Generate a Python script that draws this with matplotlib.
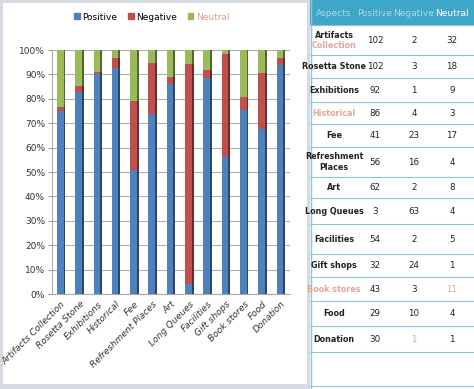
import matplotlib.pyplot as plt
import numpy as np
from matplotlib.patches import Rectangle

aspects = ['Artifacts Collection', 'Rosetta Stone', 'Exhibitions', 'Historical', 'Fee',
           'Refreshment Places', 'Art', 'Long Queues', 'Facilities', 'Gift shops',
           'Book stores', 'Food', 'Donation']
table_labels = ['Artifacts\nCollection', 'Rosetta Stone', 'Exhibitions', 'Historical', 'Fee',
                'Refreshment\nPlaces', 'Art', 'Long Queues', 'Facilities', 'Gift shops',
                'Book stores', 'Food', 'Donation']
positive = [102, 102, 92, 86, 41, 56, 62, 3, 54, 32, 43, 29, 30]
negative = [2, 3, 1, 4, 23, 16, 2, 63, 2, 24, 3, 10, 1]
neutral = [32, 18, 9, 3, 17, 4, 8, 4, 5, 1, 11, 4, 1]
headers = ['Aspects', 'Positive', 'Negative', 'Neutral']

c_pos, c_neg, c_neu = '#4f81bd', '#c0504d', '#9bbb59'

fig = plt.figure(figsize=(4.74, 3.89), dpi=100, facecolor='#d6dae3')
W, H = 474, 389

# white chart panel
fig.patches.append(Rectangle((3 / W, 5 / H), 304 / W, 381 / H, transform=fig.transFigure,
                             facecolor='white', edgecolor='none', zorder=-5))

ax = fig.add_axes([52 / W, 1 - 294 / H, 238 / W, 244 / H])
ax.patch.set_alpha(0)
pos = np.array(positive, float)
neg = np.array(negative, float)
neu = np.array(neutral, float)
tot = pos + neg + neu
p_pos, p_neg, p_neu = pos / tot * 100, neg / tot * 100, neu / tot * 100
x = np.arange(len(aspects))
bw = 0.36
sw = 0.1
for vals, bottom, c in [(p_pos, 0, c_pos), (p_neg, p_pos, c_neg), (p_neu, p_pos + p_neg, c_neu)]:
    ax.bar(x - sw / 2, vals, bw, bottom=bottom, color=c, zorder=3)
    # darker side face for the 3d look
    dark = tuple(v * 0.55 for v in plt.matplotlib.colors.to_rgb(c))
    ax.bar(x + bw / 2, vals, sw, bottom=bottom, color=dark, zorder=3)

ax.set_xlim(-0.5, len(aspects) - 0.5)
ax.set_ylim(0, 100)
ax.set_yticks(np.arange(0, 101, 10))
ax.set_yticklabels([f'{v}%' for v in range(0, 101, 10)], fontsize=6.5, color='#333333')
ax.set_xticks(x)
ax.set_xticklabels(aspects, rotation=45, ha='right', rotation_mode='anchor',
                   fontsize=6.5, style='italic', color='#333333')
ax.tick_params(axis='x', length=0, pad=4)
ax.tick_params(axis='y', length=3, color='#999999', pad=2)
ax.grid(axis='y', color='#b0b0b0', linewidth=0.8, zorder=0)
for s in ['top', 'right']:
    ax.spines[s].set_visible(False)
ax.spines['left'].set_color('#aaaaaa')
ax.spines['bottom'].set_color('#aaaaaa')

handles = [Rectangle((0, 0), 1, 1, color=c) for c in (c_pos, c_neg, c_neu)]
leg = fig.legend(handles, ['Positive', 'Negative', 'Neutral'], loc='center',
                 bbox_to_anchor=(152 / W, 1 - 17 / H), ncol=3, frameon=False, fontsize=6.5,
                 handlelength=0.6, handleheight=0.6, handletextpad=0.3, columnspacing=1.2)
leg.get_texts()[2].set_color('#d9a090')

# table panel
tx = fig.add_axes([310 / W, 0, (W - 310) / W, 1])
tx.set_xlim(0, W - 310)
tx.set_ylim(H, 0)
tx.axis('off')
tx.add_patch(Rectangle((0, 0), W - 310, H, facecolor='white', edgecolor='none'))
tx.add_patch(Rectangle((0, 0), W - 310, 25, facecolor='#3ea6c8', edgecolor='none'))
tx.axvline(0.5, color='#8fc3d8', linewidth=1)
row_lines = [25, 55, 78, 102, 124, 147, 177, 198, 224, 254, 277, 301, 326, 352, 386]
for yl in row_lines:
    tx.axhline(yl, color='#8fc3d8', linewidth=0.8)
col_x = [24, 65, 104, 142]
for cx, h in zip(col_x, headers):
    tx.text(cx, 13, h, ha='center', va='center', fontsize=6.5,
            color='white' if h == 'Neutral' else '#a9d9ea')
faded = {(3, 0), (10, 0), (10, 3), (12, 2)}
fam = ['Liberation Sans Narrow', 'DejaVu Sans Condensed', 'DejaVu Sans']
for i, lab in enumerate(table_labels):
    yc = (row_lines[i] + row_lines[i + 1]) / 2
    cells = [lab, str(positive[i]), str(negative[i]), str(neutral[i])]
    for j, (cx, t) in enumerate(zip(col_x, cells)):
        col = '#e0a898' if (i, j) in faded else '#222222'
        if i == 0 and j == 0:
            # first label: second line is faded in the source
            first, second = t.split('\n')
            tx.text(cx, yc - 5, first, ha='center', va='center', fontsize=5.8,
                    fontweight='bold', color='#222222', family=fam)
            tx.text(cx, yc + 5, second, ha='center', va='center', fontsize=5.8,
                    fontweight='bold', color='#e0a898', family=fam)
            continue
        tx.text(cx, yc, t, ha='center', va='center', fontsize=5.8 if j == 0 else 6.3,
                fontweight='bold' if j == 0 else 'normal', color=col,
                family=fam, linespacing=1.15)

fig.savefig('out.png', dpi=100, facecolor=fig.get_facecolor())
